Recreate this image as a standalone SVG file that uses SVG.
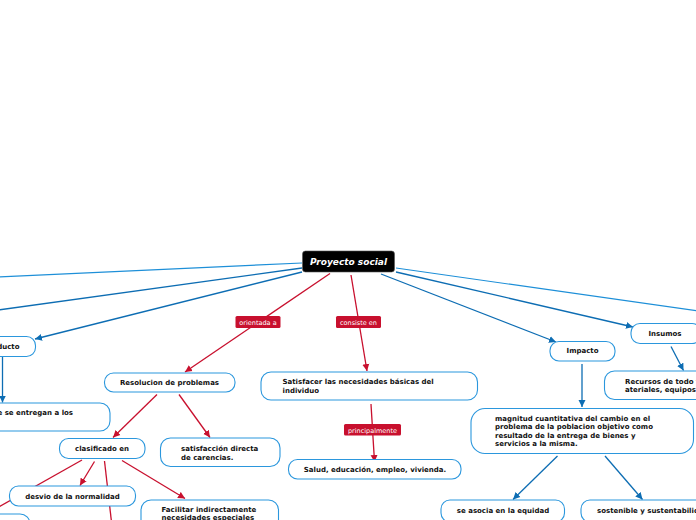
<svg xmlns="http://www.w3.org/2000/svg" width="696" height="520" viewBox="0 0 696 520">
<style>
.n{fill:#fff;stroke:#2b97dd;stroke-width:1.1}
.t{font-family:"DejaVu Sans",Verdana,sans-serif;font-weight:bold;font-size:7px;fill:#111}
.c{text-anchor:middle}
.lb{stroke:#1d8fd8;stroke-width:1.2;fill:none}
.db{stroke:#0d6db3;stroke-width:1.3;fill:none}
.rd{stroke:#c8102e;stroke-width:1.3;fill:none}
.lr{fill:#c8102e}
.lt{font-family:"DejaVu Sans",Verdana,sans-serif;font-size:6.5px;fill:#fff;text-anchor:middle}
</style>
<defs>
<marker id="ab" markerWidth="8" markerHeight="8" refX="7" refY="4" orient="auto" markerUnits="userSpaceOnUse"><path d="M0,0.5 L7,4 L0,7.5 Z" fill="#0d6db3"/></marker>
<marker id="ar" markerWidth="8" markerHeight="8" refX="7" refY="4" orient="auto" markerUnits="userSpaceOnUse"><path d="M0,0.5 L7,4 L0,7.5 Z" fill="#c8102e"/></marker>
</defs>
<rect width="696" height="520" fill="#fff"/>
<g id="connectors">
<line class="lb" x1="302" y1="263" x2="-2" y2="277"/>
<line class="db" x1="302" y1="268" x2="-2" y2="310"/>
<line class="db" x1="302" y1="272" x2="35" y2="339" marker-end="url(#ab)"/>
<line class="lb" x1="396" y1="268" x2="698" y2="311"/>
<line class="db" x1="396" y1="272" x2="633" y2="327" marker-end="url(#ab)"/>
<line class="db" x1="381" y1="274" x2="556" y2="342" marker-end="url(#ab)"/>
<line class="rd" x1="330" y1="273.5" x2="185" y2="372" marker-end="url(#ar)"/>
<line class="rd" x1="351" y1="275" x2="367" y2="371" marker-end="url(#ar)"/>
<line class="db" x1="2.5" y1="357" x2="2.5" y2="402.5" marker-end="url(#ab)"/>
<line class="rd" x1="157" y1="394.5" x2="113" y2="437.5" marker-end="url(#ar)"/>
<line class="rd" x1="179" y1="394.5" x2="210" y2="437.5" marker-end="url(#ar)"/>
<line class="rd" x1="82" y1="460" x2="-12" y2="513"/>
<line class="rd" x1="94.5" y1="461.5" x2="80" y2="485.5" marker-end="url(#ar)"/>
<line class="rd" x1="104.5" y1="461" x2="111.5" y2="522"/>
<line class="rd" x1="122" y1="460.5" x2="185" y2="498.5" marker-end="url(#ar)"/>
<line class="rd" x1="371" y1="404" x2="374.5" y2="462" marker-end="url(#ar)"/>
<line class="db" x1="671" y1="346.5" x2="683.5" y2="370.5" marker-end="url(#ab)"/>
<line class="db" x1="582" y1="364" x2="582" y2="407" marker-end="url(#ab)"/>
<line class="db" x1="557.5" y1="456" x2="513" y2="499.5" marker-end="url(#ab)"/>
<line class="db" x1="605" y1="456" x2="642.5" y2="499.5" marker-end="url(#ab)"/>
<rect class="lr" x="235.5" y="316" width="45" height="12" rx="1.5"/>
<text class="lt" x="258" y="324.5">orientada a</text>
<rect class="lr" x="336" y="316" width="45" height="12" rx="1.5"/>
<text class="lt" x="358.5" y="324.5">consiste en</text>
<rect class="lr" x="344" y="424" width="57" height="11.5" rx="1.5"/>
<text class="lt" x="372.5" y="432.5">principalmente</text>
</g>
<g id="root">
<rect x="302.5" y="251" width="92" height="21" rx="3" fill="#000" stroke="#555" stroke-width="0.6"/>
<text x="348.5" y="264.5" font-family="DejaVu Sans,Verdana,sans-serif" font-weight="bold" font-style="italic" font-size="9" fill="#fff" text-anchor="middle">Proyecto social</text>
</g>
<g id="producto">
<rect class="n" x="-40" y="336.5" width="75.5" height="20" rx="9"/>
<text class="t" x="19.5" y="349" text-anchor="end">ducto</text>
</g>
<g id="entregan">
<rect class="n" x="-60" y="403" width="170" height="28" rx="10"/>
<text class="t" x="-2.5" y="414.5">e se entregan a los</text>
</g>
<g id="resolucion">
<rect class="n" x="104.5" y="373" width="130.5" height="19" rx="9"/>
<text class="t c" x="169.5" y="384.5">Resolucion de problemas</text>
</g>
<g id="clasificado">
<rect class="n" x="59.5" y="438.5" width="85.5" height="20" rx="9"/>
<text class="t c" x="102" y="451">clasificado en</text>
</g>
<g id="satisfaccion">
<rect class="n" x="160.5" y="438" width="119.5" height="28.5" rx="10"/>
<text class="t" x="181" y="451">satisfacción directa</text>
<text class="t" x="181" y="460">de carencias.</text>
</g>
<g id="desvio">
<rect class="n" x="9.5" y="486" width="126" height="20" rx="9"/>
<text class="t c" x="72.5" y="499">desvio de la normalidad</text>
</g>
<g id="nodo-inferior">
<rect class="n" x="-60" y="514" width="90" height="30" rx="10"/>
</g>
<g id="facilitar">
<rect class="n" x="141" y="500" width="137.5" height="36" rx="10"/>
<text class="t" x="161.5" y="511.5">Facilitar indirectamente</text>
<text class="t" x="161.5" y="520">necesidades especiales</text>
</g>
<g id="satisfacer">
<rect class="n" x="261" y="372" width="216.5" height="28" rx="10"/>
<text class="t" x="282.5" y="384">Satisfacer las necesidades básicas del</text>
<text class="t" x="282.5" y="392.5">individuo</text>
</g>
<g id="salud">
<rect class="n" x="288.5" y="459.5" width="172.5" height="19.5" rx="9"/>
<text class="t c" x="375" y="471.5">Salud, educación, empleo, vivienda.</text>
</g>
<g id="impacto">
<rect class="n" x="550" y="341.5" width="65" height="19.5" rx="9"/>
<text class="t c" x="582.5" y="353">Impacto</text>
</g>
<g id="insumos">
<rect class="n" x="631" y="323.5" width="70" height="20" rx="9"/>
<text class="t c" x="665" y="336">Insumos</text>
</g>
<g id="recursos">
<rect class="n" x="604.5" y="371" width="110" height="28.5" rx="10"/>
<text class="t" x="625" y="383.5">Recursos de todo t</text>
<text class="t" x="625" y="392">ateriales, equipos</text>
</g>
<g id="magnitud">
<rect class="n" x="471" y="408.5" width="222.5" height="45" rx="14"/>
<text class="t" x="495" y="421">magnitud cuantitativa del cambio en el</text>
<text class="t" x="495" y="429">problema de la poblacion objetivo como</text>
<text class="t" x="495" y="437.5">resultado de la entrega de bienes y</text>
<text class="t" x="495" y="445.5">servicios a la misma.</text>
</g>
<g id="equidad">
<rect class="n" x="441" y="500" width="123.5" height="22" rx="9"/>
<text class="t c" x="503" y="512.5">se asocia en la equidad</text>
</g>
<g id="sostenible">
<rect class="n" x="581" y="500" width="130" height="22" rx="9"/>
<text class="t" x="597" y="512.5">sostenible y sustentabilid</text>
</g>
</svg>
